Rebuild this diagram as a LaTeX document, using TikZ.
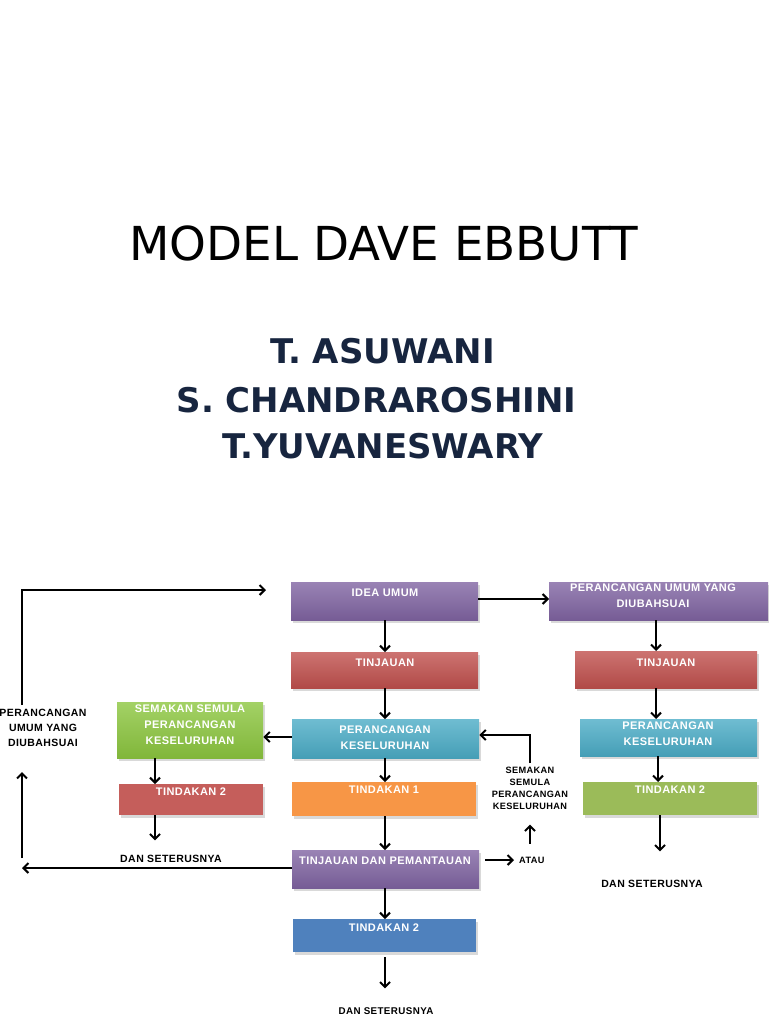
\documentclass[tikz,border=0pt]{standalone}
\usepackage{fontspec}
\setmainfont{DejaVu Sans}
\newfontfamily\dfont{Liberation Sans}[LetterSpace=4]
\usetikzlibrary{arrows.meta,shadows,positioning}
\definecolor{purp}{HTML}{8064A2}
\definecolor{redb}{HTML}{C0504D}
\definecolor{cyanb}{HTML}{4BACC6}
\definecolor{orab}{HTML}{F79646}
\definecolor{blueb}{HTML}{4F81BD}
\definecolor{greenb}{HTML}{9BBB59}
\definecolor{lgreen}{HTML}{8CC63F}
\definecolor{navy}{HTML}{17253F}
\tikzset{
  box/.style={draw=none, anchor=north west, inner sep=0pt,
    drop shadow={shadow xshift=1.5pt, shadow yshift=-2.5pt, opacity=0.3}},
  gbox/.style={box, top color=#1!80!white, bottom color=#1!92!black},
  fbox/.style={box, fill=#1},
  btxt/.style={anchor=north, inner sep=0pt, text=white, align=center,
    font=\dfont\bfseries\fontsize{11}{16}\selectfont},
  ltxt/.style={anchor=north, inner sep=0pt, text=black, align=center,
    font=\dfont\bfseries\fontsize{10.5}{15}\selectfont},
  stxt/.style={anchor=north, inner sep=0pt, text=black, align=center,
    font=\dfont\bfseries\fontsize{9.2}{12}\selectfont},
  nametxt/.style={anchor=base, inner sep=0pt, text=navy, font=\bfseries\fontsize{34}{38}\selectfont},
  arr/.style={line width=2.2pt, -{Straight Barb[length=5pt,width=10pt,line width=2pt]}},
}
\begin{document}
\begin{tikzpicture}[x=1pt,y=-1pt]
\useasboundingbox (0,0) rectangle (768,1024);

% title
\node[anchor=base, inner sep=0pt, font=\fontsize{46.8}{50}\selectfont] (title) at (384,260) {MODEL DAVE EBBUTT};
\node[nametxt] (n1) at (382.5,363) {T. ASUWANI};
\node[nametxt] (n2) at (376.5,412) {S. CHANDRAROSHINI};
\node[nametxt] (n3) at (382.5,458) {T.YUVANESWARY};

% middle column
\node[gbox=purp, minimum width=187, minimum height=38] (idea) at (291,582) {};
\node[btxt] (ideat) at (385,589) {IDEA UMUM};
\node[gbox=redb, minimum width=187, minimum height=36] (tin) at (291,652) {};
\node[btxt] (tint) at (385,659) {TINJAUAN};
\node[gbox=cyanb, minimum width=187, minimum height=39] (pk) at (292,719) {};
\node[btxt] (pkt) at (385,726) {PERANCANGAN\\KESELURUHAN};
\node[fbox=orab, minimum width=184, minimum height=34] (t1) at (292,782) {};
\node[btxt] (t1t) at (384,786) {TINDAKAN 1};
\node[gbox=purp, minimum width=187, minimum height=38] (tp) at (292,850) {};
\node[btxt] (tpt) at (385,857) {TINJAUAN DAN PEMANTAUAN};
\node[fbox=blueb, minimum width=183, minimum height=33] (t2b) at (293,919) {};
\node[btxt] (t2bt) at (384,924) {TINDAKAN 2};
\node[ltxt, font=\dfont\bfseries\fontsize{9.8}{12}\selectfont] (dsm) at (386,1007) {DAN SETERUSNYA};

% right column
\node[gbox=purp, minimum width=219, minimum height=38] (pu) at (549,582) {};
\node[btxt] (put) at (653,584) {PERANCANGAN UMUM YANG\\DIUBAHSUAI};
\node[gbox=redb, minimum width=182, minimum height=37] (tinr) at (575,651) {};
\node[btxt] (tinrt) at (666,659) {TINJAUAN};
\node[gbox=cyanb, minimum width=177, minimum height=37] (pkr) at (580,719) {};
\node[btxt] (pkrt) at (668,722) {PERANCANGAN\\KESELURUHAN};
\node[fbox=greenb, minimum width=174, minimum height=33] (t2g) at (583,782) {};
\node[btxt] (t2gt) at (670,786) {TINDAKAN 2};
\node[ltxt] (dsr) at (652,880) {DAN SETERUSNYA};

% left column
\node[gbox=lgreen, minimum width=146, minimum height=56] (sm) at (117,702) {};
\node[btxt] (smt) at (190,705) {SEMAKAN SEMULA\\PERANCANGAN\\KESELURUHAN};
\node[fbox=redb!92!white, minimum width=144, minimum height=31] (t2r) at (119,784) {};
\node[btxt] (t2rt) at (191,788) {TINDAKAN 2};
\node[ltxt] (dsl) at (171,855) {DAN SETERUSNYA};
\node[ltxt] (pul) at (43,709) {PERANCANGAN\\UMUM YANG\\DIUBAHSUAI};

% side labels
\node[stxt] (sem) at (530,767) {SEMAKAN\\SEMULA\\PERANCANGAN\\KESELURUHAN};
\node[stxt, anchor=west] (atau) at (519,860) {ATAU};

% coordinates
\coordinate (lt) at (22,590);
\coordinate (ltend) at (266,590);
\coordinate (lb) at (22,868);
\coordinate (semtop) at (530,735);

% arrows middle
\draw[arr] (idea.south -| ideat) -- (tin.north -| ideat);
\draw[arr] (tin.south -| ideat) -- (pk.north -| ideat);
\draw[arr] (pk.south -| ideat) -- (t1.north -| ideat);
\draw[arr] (t1.south -| ideat) -- (tp.north -| ideat);
\draw[arr] (tp.south -| ideat) -- (t2b.north -| ideat);
\draw[arr] ([yshift=-5]t2b.south -| ideat) -- ([yshift=-36]t2b.south -| ideat);
\draw[arr] (idea.east |- 0,599) -- (pu.west |- 0,599);
% right arrows
\draw[arr] (pu.south -| 656,0) -- (tinr.north -| 656,0);
\draw[arr] (tinr.south -| 656,0) -- (pkr.north -| 656,0);
\draw[arr] (pkr.south -| 658,0) -- (t2g.north -| 658,0);
\draw[arr] (t2g.south -| 660,0) -- ([yshift=-36]t2g.south -| 660,0);
% left arrows
\draw[arr] (pk.west |- 0,737) -- (sm.east |- 0,737);
\draw[arr] (sm.south -| 155,0) -- (t2r.north -| 155,0);
\draw[arr] (t2r.south -| 155,0) -- ([yshift=-25]t2r.south -| 155,0);
\draw[arr] ([yshift=4]pul.north -| lt) -- (lt) -- (ltend);
\draw[arr] (tp.west |- lb) -- (lb);
\draw[arr] ([yshift=10]lb) -- ([yshift=96]lb);
% semakan loop
\draw[arr] ([yshift=4]sem.north) -- (semtop) -- (pk.east |- semtop);
\draw[arr] ([yshift=13]atau.north -| sem) -- ([yshift=32]atau.north -| sem);
\draw[arr] ([xshift=6]tp.east |- atau) -- ([xshift=-5]atau.west);
\end{tikzpicture}
\end{document}
